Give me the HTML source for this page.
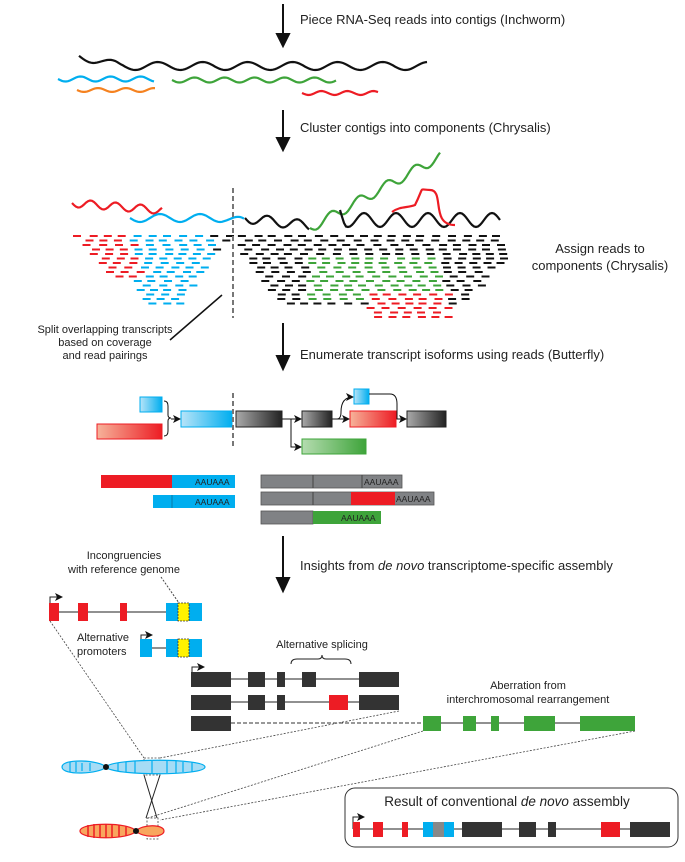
<!DOCTYPE html>
<html><head><meta charset="utf-8">
<style>
html,body{margin:0;padding:0;background:#fff;}
svg{display:block;font-family:"Liberation Sans",sans-serif;}
</style></head>
<body>
<svg id="s" width="685" height="862" viewBox="0 0 685 862" xmlns="http://www.w3.org/2000/svg">
<defs>
<marker id="ah" markerWidth="8" markerHeight="8" refX="7" refY="4" orient="auto" markerUnits="userSpaceOnUse"><path d="M0,0 L8,4 L0,8 L2,4 Z" fill="#111"/></marker>
<linearGradient id="gb" x1="0" x2="1"><stop offset="0" stop-color="#b8e4f8"/><stop offset="1" stop-color="#00aeef"/></linearGradient>
<linearGradient id="gr" x1="0" x2="1"><stop offset="0" stop-color="#f6b39a"/><stop offset="1" stop-color="#ed1c24"/></linearGradient>
<linearGradient id="gk" x1="0" x2="1"><stop offset="0" stop-color="#aaa"/><stop offset="1" stop-color="#222"/></linearGradient>
<linearGradient id="gg" x1="0" x2="1"><stop offset="0" stop-color="#b5dcb0"/><stop offset="1" stop-color="#3ea43a"/></linearGradient>
</defs>
<g id="waves" fill="none" stroke-width="2.2"></g>
<g id="reads"></g>

<g stroke="#111" stroke-width="2" fill="#111">
<line x1="283" y1="4" x2="283" y2="36"/><path d="M277,34 L289,34 L283,46Z"/>
<line x1="283" y1="110" x2="283" y2="140"/><path d="M277,138 L289,138 L283,150Z"/>
<line x1="283" y1="323" x2="283" y2="358"/><path d="M277,356 L289,356 L283,369Z"/>
<line x1="283" y1="536" x2="283" y2="580"/><path d="M277,578 L289,578 L283,591Z"/>
</g>
<g font-size="13" fill="#222">
<text x="300" y="24">Piece RNA-Seq reads into contigs (Inchworm)</text>
<text x="300" y="132">Cluster contigs into components (Chrysalis)</text>
<text x="300" y="359">Enumerate transcript isoforms using reads (Butterfly)</text>
<text x="300" y="570">Insights from <tspan font-style="italic">de novo</tspan> transcriptome-specific assembly</text>
<text x="600" y="253" text-anchor="middle">Assign reads to</text>
<text x="600" y="270" text-anchor="middle">components (Chrysalis)</text>
</g>
<g font-size="11" fill="#222" text-anchor="middle">
<text x="105" y="333">Split overlapping transcripts</text>
<text x="105" y="346">based on coverage</text>
<text x="105" y="359">and read pairings</text>
</g>
<line x1="222" y1="295" x2="170" y2="340" stroke="#111" stroke-width="1.5"/>
<line x1="233" y1="188" x2="233" y2="318" stroke="#777" stroke-width="2" stroke-dasharray="5,3"/>

<g stroke-width="1">
<rect x="140" y="397" width="22" height="15" fill="url(#gb)" stroke="#00aeef"/>
<rect x="97" y="424" width="65" height="15" fill="url(#gr)" stroke="#ed1c24"/>
<path d="M164,401 q4,0 4,5 v9 q0,3 3,3 q-3,0 -3,3 v10 q0,5 -4,5" fill="none" stroke="#111"/>
<line x1="171" y1="419" x2="180" y2="419" stroke="#111" marker-end="url(#ah)"/>
<rect x="181" y="411" width="51" height="16" fill="url(#gb)" stroke="#00aeef"/>
<line x1="233" y1="393" x2="233" y2="449" stroke="#777" stroke-width="2" stroke-dasharray="5,3"/>
<rect x="236" y="411" width="46" height="16" fill="url(#gk)" stroke="#222"/>
<line x1="282" y1="419" x2="301" y2="419" stroke="#111" marker-end="url(#ah)"/>
<path d="M291,419 V447 H301" fill="none" stroke="#111" marker-end="url(#ah)"/>
<rect x="302" y="439" width="64" height="15" fill="url(#gg)" stroke="#3ea43a"/>
<rect x="302" y="411" width="30" height="16" fill="url(#gk)" stroke="#222"/>
<path d="M332,419 H337 Q341,419 341,412 Q341,397 353,397" fill="none" stroke="#111" marker-end="url(#ah)"/>
<line x1="332" y1="419" x2="349" y2="419" stroke="#111" marker-end="url(#ah)"/>
<rect x="354" y="389" width="15" height="15" fill="url(#gb)" stroke="#00aeef"/>
<rect x="350" y="411" width="46" height="16" fill="url(#gr)" stroke="#ed1c24"/>
<path d="M369,394 H390 Q397,394 397,404 V419 H406" fill="none" stroke="#111" marker-end="url(#ah)"/>
<rect x="407" y="411" width="39" height="16" fill="url(#gk)" stroke="#222"/>
</g>

<g font-size="8.5" fill="#222">
<rect x="101" y="475" width="71" height="13" fill="#ed1c24"/>
<rect x="172" y="475" width="63" height="13" fill="#00aeef"/>
<text x="195" y="485">AAUAAA</text>
<rect x="153" y="495" width="82" height="13" fill="#00aeef"/>
<line x1="172" y1="495" x2="172" y2="508" stroke="#0a6d96" stroke-width="0.8"/>
<text x="195" y="505">AAUAAA</text>
<rect x="261" y="475" width="141" height="13" fill="#808285" stroke="#555" stroke-width="0.8"/>
<line x1="313" y1="475" x2="313" y2="488" stroke="#444"/><line x1="362" y1="475" x2="362" y2="488" stroke="#444"/>
<text x="364" y="485">AAUAAA</text>
<rect x="261" y="492" width="173" height="13" fill="#808285" stroke="#555" stroke-width="0.8"/>
<line x1="313" y1="492" x2="313" y2="505" stroke="#444"/>
<rect x="351" y="492" width="44" height="13" fill="#ed1c24"/>
<text x="396" y="502">AAUAAA</text>
<rect x="261" y="511" width="52" height="13" fill="#808285" stroke="#555" stroke-width="0.8"/>
<rect x="313" y="511" width="68" height="13" fill="#3ea43a"/>
<text x="341" y="521">AAUAAA</text>
</g>

<g font-size="11" fill="#222">
<text x="124" y="559" text-anchor="middle">Incongruencies</text>
<text x="124" y="573" text-anchor="middle">with reference genome</text>
<text x="77" y="641">Alternative</text>
<text x="77" y="655">promoters</text>
<text x="322" y="648" text-anchor="middle">Alternative splicing</text>
<text x="528" y="689" text-anchor="middle">Aberration from</text>
<text x="528" y="703" text-anchor="middle">interchromosomal rearrangement</text>
</g>
<line x1="161" y1="577" x2="179" y2="603" stroke="#444" stroke-dasharray="2,1.5"/>
<g stroke="#222" stroke-width="1" fill="none">
<path d="M50,612 V597 H62" marker-end="url(#ah)"/>
<path d="M141,648 V635 H152" marker-end="url(#ah)"/>
<path d="M192,679 V667 H204" marker-end="url(#ah)"/>
<path d="M291,664 q0,-5 6,-5 h21 q4,0 4,-4 q0,4 4,4 h19 q6,0 6,5"/>
<line x1="50" y1="612" x2="202" y2="612"/>
<line x1="140" y1="648" x2="202" y2="648"/>
<line x1="191" y1="679" x2="399" y2="679"/>
<line x1="191" y1="702" x2="399" y2="702"/>
<line x1="423" y1="723" x2="635" y2="723"/>
</g>
<g>
<rect x="49" y="603" width="10" height="18" fill="#ed1c24"/>
<rect x="78" y="603" width="10" height="18" fill="#ed1c24"/>
<rect x="120" y="603" width="7" height="18" fill="#ed1c24"/>
<rect x="166" y="603" width="36" height="18" fill="#00aeef"/>
<rect x="178" y="603" width="11" height="18" fill="#fff200" stroke="#333" stroke-dasharray="2,1" stroke-width="0.8"/>
<rect x="140" y="639" width="12" height="18" fill="#00aeef"/>
<rect x="166" y="639" width="36" height="18" fill="#00aeef"/>
<rect x="178" y="639" width="11" height="18" fill="#fff200" stroke="#333" stroke-dasharray="2,1" stroke-width="0.8"/>
<g fill="#333">
<rect x="191" y="672" width="40" height="15"/><rect x="248" y="672" width="17" height="15"/><rect x="277" y="672" width="8" height="15"/><rect x="302" y="672" width="14" height="15"/><rect x="359" y="672" width="40" height="15"/>
<rect x="191" y="695" width="40" height="15"/><rect x="248" y="695" width="17" height="15"/><rect x="277" y="695" width="8" height="15"/><rect x="359" y="695" width="40" height="15"/>
<rect x="191" y="716" width="40" height="15"/>
</g>
<rect x="329" y="695" width="19" height="15" fill="#ed1c24"/>
<line x1="231" y1="723" x2="423" y2="723" stroke="#333" stroke-dasharray="4,2"/>
<g fill="#3ea43a">
<rect x="423" y="716" width="18" height="15"/><rect x="463" y="716" width="13" height="15"/><rect x="491" y="716" width="8" height="15"/><rect x="524" y="716" width="31" height="15"/><rect x="580" y="716" width="55" height="15"/>
</g>
</g>
<g stroke="#444" stroke-width="0.8" stroke-dasharray="2,1.5" fill="none">
<line x1="50" y1="621" x2="144" y2="758"/>
<line x1="399" y1="711" x2="160" y2="758"/>
<line x1="423" y1="731" x2="148" y2="818"/>
<line x1="635" y1="731" x2="160" y2="820"/>
<rect x="144" y="758" width="16" height="17"/>
<rect x="147" y="818" width="11" height="21"/>
</g>
<line x1="144" y1="775" x2="157" y2="818" stroke="#222"/>
<line x1="160" y1="775" x2="146" y2="818" stroke="#222"/>
<g>
<path d="M62,767 C62,758 100,760 106,767 C112,758 205,758 205,767 C205,776 112,776 106,767 C100,774 62,776 62,767Z" fill="#a6dcf5" stroke="#00aeef" stroke-width="1.2"/>
<g stroke="#00aeef" stroke-width="1.2">
<line x1="70" y1="762" x2="70" y2="772"/><line x1="76" y1="762" x2="76" y2="772"/><line x1="82" y1="763" x2="82" y2="771"/><line x1="90" y1="763" x2="90" y2="771"/><line x1="118" y1="763" x2="118" y2="771"/><line x1="126" y1="762" x2="126" y2="772"/><line x1="135" y1="761" x2="135" y2="773"/><line x1="152" y1="761" x2="152" y2="773"/><line x1="167" y1="761" x2="167" y2="773"/><line x1="176" y1="761" x2="176" y2="773"/><line x1="183" y1="762" x2="183" y2="772"/><line x1="192" y1="762" x2="192" y2="772"/>
</g>
<circle cx="106" cy="767" r="3" fill="#111"/>
<path d="M80,831 C80,822 130,822 136,831 C142,824 164,824 164,831 C164,838 142,838 136,831 C130,840 80,840 80,831Z" fill="#f8a65e" stroke="#ed1c24" stroke-width="1.2"/>
<g stroke="#ed1c24" stroke-width="1.5">
<line x1="88" y1="825" x2="88" y2="837"/><line x1="94" y1="824" x2="94" y2="838"/><line x1="100" y1="824" x2="100" y2="838"/><line x1="106" y1="824" x2="106" y2="838"/><line x1="112" y1="825" x2="112" y2="837"/><line x1="119" y1="825" x2="119" y2="837"/><line x1="126" y1="826" x2="126" y2="836"/>
</g>
<circle cx="136" cy="831" r="3" fill="#111"/>
</g>
<rect x="345" y="788" width="333" height="59" rx="10" fill="#fff" stroke="#333" stroke-width="1"/>
<text x="507" y="806" font-size="13.5" text-anchor="middle" fill="#222">Result of conventional <tspan font-style="italic">de novo</tspan>  assembly</text>
<path d="M353,829 V817 H364" fill="none" stroke="#222" marker-end="url(#ah)"/>
<line x1="353" y1="829" x2="670" y2="829" stroke="#222"/>
<g>
<rect x="353" y="822" width="7" height="15" fill="#ed1c24"/><rect x="373" y="822" width="10" height="15" fill="#ed1c24"/><rect x="402" y="822" width="6" height="15" fill="#ed1c24"/>
<rect x="423" y="822" width="31" height="15" fill="#00aeef"/><rect x="433" y="822" width="11" height="15" fill="#888"/>
<rect x="462" y="822" width="40" height="15" fill="#333"/><rect x="519" y="822" width="17" height="15" fill="#333"/><rect x="548" y="822" width="8" height="15" fill="#333"/>
<rect x="601" y="822" width="19" height="15" fill="#ed1c24"/><rect x="630" y="822" width="40" height="15" fill="#333"/>
</g>
</svg>
<script>
(function(){
var NS="http://www.w3.org/2000/svg";
var W=document.getElementById('waves'),R=document.getElementById('reads');
function wave(x0,x1,y,amp,per,col,slope){
  var d="";for(var x=x0;x<=x1;x+=2){var yy=y+amp*Math.sin((x-x0)/per*2*Math.PI)+(slope?slope(x):0);d+=(d?"L":"M")+x+","+yy.toFixed(1);}
  var p=document.createElementNS(NS,'path');p.setAttribute('d',d);p.setAttribute('stroke',col);W.appendChild(p);}
wave(79,427,66,4,45,'#111',function(x){return x<120?(120-x)*-0.25:0;});
wave(58,155,79,2.5,30,'#00aeef');
wave(77,155,90,2,28,'#f58220');
wave(172,337,80,2.5,30,'#3ea43a');
wave(302,379,93,2,26,'#ed1c24');
wave(72,162,203,4,25,'#ed1c24',function(x){return (x-72)*0.08;});
wave(130,245,218,4,40,'#00aeef',function(x){return x>225?(x-225)*0.2:0;});
wave(245,310,218,5,30,'#111',function(x){return (x-245)*0.12;});
var g=[];for(var x=310;x<=440;x+=2){g.push([x,228-(x-310)*0.55+5*Math.sin((x-310)/28*2*Math.PI)]);}
var d="";g.forEach(function(p,i){d+=(i?"L":"M")+p[0]+","+p[1].toFixed(1)});
var p=document.createElementNS(NS,'path');p.setAttribute('d',d);p.setAttribute('stroke','#3ea43a');W.appendChild(p);
wave(340,500,220,7,32,'#111',function(x){return x<345?(345-x)*-2:0;});
var rp=document.createElementNS(NS,'path');rp.setAttribute('d','M392,212 C400,206 408,208 415,205 C425,185 418,190 430,190 C445,190 430,225 455,225');rp.setAttribute('stroke','#ed1c24');W.appendChild(rp);
var k=7;function rnd(){k=(k*16807)%2147483647;return k/2147483647;}
function dash(x,y,c){var r=document.createElementNS(NS,'rect');r.setAttribute('x',x.toFixed(1));r.setAttribute('y',y.toFixed(1));r.setAttribute('width',8);r.setAttribute('height',2);r.setAttribute('fill',c);R.appendChild(r);}
for(var i=0;i<16;i++){var y=235+i*4.5;
  var l0=73+i*4,l1=226-i*3.3;
  if(i>9){l0=130+(i-9)*2;}
  for(var x=l0+(i%2)*6+rnd()*3;x<l1;x+=13+rnd()*4){var c=(x<128+i*1.5&&i<10)?'#ed1c24':'#00aeef'; if(x>208&&i<4)c='#111'; dash(x,y,c);}
}
for(var i=0;i<19;i++){var y=235+i*4.5;
  var r0=236+Math.max(0,i-3)*3.5,r1=502-Math.max(0,i-5)*4;
  for(var x=r0+(i%2)*6+rnd()*3;x<r1;x+=13+rnd()*4){var c='#111';
    if(i>=5&&i<=14&&x>305&&x<440)c='#3ea43a';
    if(i>=13&&x>365&&x<445)c='#ed1c24';
    if(i>=16&&(x<365||x>445))continue;
    dash(x,y,c);}
}
})();
</script>
</body></html>
